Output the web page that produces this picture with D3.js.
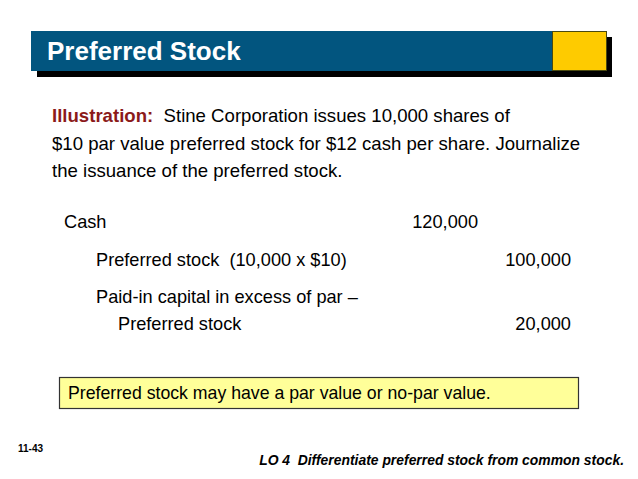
<!DOCTYPE html>
<html><head><meta charset="utf-8">
<script src="https://cdn.jsdelivr.net/npm/d3@7"></script>
<style>body{margin:0;background:#fff}text{font-family:"Liberation Sans",Arial,sans-serif;white-space:pre}</style>
</head><body>
<script>
// slide content
var title = "Preferred Stock";
var introLines = ["$10 par value preferred stock for $12 cash per share. Journalize",
                  "the issuance of the preferred stock."];
var entryAccounts = ["Cash", "Preferred stock  (10,000 x $10)", "Paid-in capital in excess of par \u2013", "Preferred stock"];
var entryIndent = [0, 1, 1, 2];
var debitValues = ["120,000", "", "", ""];
var creditValues = ["", "100,000", "", "20,000"];
var rowY = [228, 266, 303, 330];

var svg = d3.select("body").append("svg").attr("width", 638).attr("height", 479);

// banner
svg.append("rect").attr("x", 37).attr("y", 37).attr("width", 575).attr("height", 40).attr("fill", "#000");
svg.append("rect").attr("x", 31).attr("y", 31).attr("width", 576).attr("height", 40).attr("fill", "#02557f");
svg.append("rect").attr("x", 552.5).attr("y", 31.5).attr("width", 54).attr("height", 39).attr("fill", "#fecb00")
    .attr("stroke", "#4a4a10").attr("stroke-width", 1);
svg.append("text").attr("x", 47).attr("y", 60).attr("fill", "#fff").attr("font-size", 26)
    .attr("font-weight", "bold").text(title);

// illustration
var ill = svg.append("text").attr("x", 52).attr("y", 122).attr("font-size", 18.6);
ill.append("tspan").attr("fill", "#8b1a1a").attr("font-weight", "bold").text("Illustration:");
ill.append("tspan").attr("fill", "#000").text("  Stine Corporation issues 10,000 shares of");
svg.selectAll(".intro").data(introLines).enter().append("text")
    .attr("x", 52).attr("y", function (d, i) { return 150 + i * 27; })
    .attr("font-size", 18.6).text(function (d) { return d; });

// journal entry
var indentX = d3.scaleOrdinal().domain([0, 1, 2]).range([64, 96, 118]);
var rows = svg.selectAll(".row").data(entryAccounts).enter().append("g");
rows.append("text").attr("x", function (d, i) { return indentX(entryIndent[i]); })
    .attr("y", function (d, i) { return rowY[i]; }).attr("font-size", 18.2).text(function (d) { return d; });
rows.append("text").attr("x", 478).attr("text-anchor", "end")
    .attr("y", function (d, i) { return rowY[i]; }).attr("font-size", 18.2).text(function (d, i) { return debitValues[i]; });
rows.append("text").attr("x", 571).attr("text-anchor", "end")
    .attr("y", function (d, i) { return rowY[i]; }).attr("font-size", 18.2).text(function (d, i) { return creditValues[i]; });

// note box
svg.append("rect").attr("x", 59.5).attr("y", 377.5).attr("width", 519).attr("height", 31)
    .attr("fill", "#ffff99").attr("stroke", "#333").attr("stroke-width", 1.2);
svg.append("text").attr("x", 68).attr("y", 399).attr("font-size", 17.7).text("Preferred stock may have a par value or no-par value.");

// footer
svg.append("text").attr("x", 18).attr("y", 452).attr("font-size", 10).attr("font-weight", "bold").text("11-43");
svg.append("text").attr("x", 624).attr("y", 465).attr("text-anchor", "end").attr("font-size", 13.9)
    .attr("font-weight", "bold").attr("font-style", "italic").text("LO 4  Differentiate preferred stock from common stock.");
</script>
</body></html>
